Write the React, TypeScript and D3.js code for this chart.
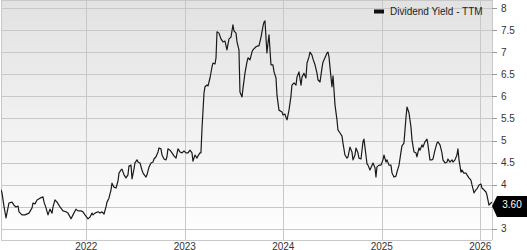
import React from "react";
import * as d3 from "d3";

// Time positions (decimal years) and dividend yield values
const years: number[] = [
  2021.134, 2021.144, 2021.164, 2021.185, 2021.215, 2021.246, 2021.266, 2021.286, 2021.307, 2021.317,
  2021.347, 2021.378, 2021.418, 2021.449, 2021.459, 2021.479, 2021.5, 2021.53, 2021.56, 2021.571,
  2021.591, 2021.611, 2021.631, 2021.652, 2021.662, 2021.682, 2021.703, 2021.733, 2021.763, 2021.794,
  2021.814, 2021.845, 2021.865, 2021.895, 2021.916, 2021.946, 2021.966, 2021.987, 2022.017, 2022.038,
  2022.058, 2022.068, 2022.088, 2022.119, 2022.139, 2022.159, 2022.18, 2022.2, 2022.21, 2022.23,
  2022.251, 2022.261, 2022.281, 2022.302, 2022.322, 2022.332, 2022.352, 2022.362, 2022.383, 2022.403,
  2022.423, 2022.433, 2022.454, 2022.464, 2022.484, 2022.494, 2022.515, 2022.525, 2022.545, 2022.565,
  2022.576, 2022.606, 2022.616, 2022.637, 2022.657, 2022.677, 2022.687, 2022.708, 2022.728, 2022.738,
  2022.758, 2022.769, 2022.789, 2022.809, 2022.819, 2022.829, 2022.85, 2022.87, 2022.89, 2022.911,
  2022.931, 2022.951, 2022.972, 2022.992, 2023.012, 2023.032, 2023.053, 2023.073, 2023.083, 2023.104,
  2023.124, 2023.134, 2023.154, 2023.164, 2023.175, 2023.195, 2023.205, 2023.225, 2023.236, 2023.256,
  2023.276, 2023.286, 2023.307, 2023.317, 2023.327, 2023.347, 2023.367, 2023.388, 2023.408, 2023.428,
  2023.449, 2023.469, 2023.489, 2023.499, 2023.52, 2023.53, 2023.55, 2023.56, 2023.581, 2023.591,
  2023.611, 2023.631, 2023.642, 2023.662, 2023.682, 2023.692, 2023.723, 2023.743, 2023.753, 2023.774,
  2023.794, 2023.804, 2023.814, 2023.824, 2023.834, 2023.845, 2023.855, 2023.865, 2023.875, 2023.895,
  2023.906, 2023.926, 2023.936, 2023.956, 2023.987, 2023.997, 2024.017, 2024.027, 2024.038, 2024.058,
  2024.078, 2024.088, 2024.109, 2024.129, 2024.139, 2024.159, 2024.18, 2024.19, 2024.21, 2024.23,
  2024.241, 2024.261, 2024.271, 2024.291, 2024.302, 2024.322, 2024.342, 2024.352, 2024.373, 2024.393,
  2024.403, 2024.423, 2024.444, 2024.454, 2024.464, 2024.484, 2024.494, 2024.505, 2024.525, 2024.545,
  2024.555, 2024.576, 2024.596, 2024.606, 2024.626, 2024.647, 2024.657, 2024.677, 2024.697, 2024.708,
  2024.728, 2024.738, 2024.758, 2024.768, 2024.789, 2024.809, 2024.819, 2024.839, 2024.85, 2024.86,
  2024.88, 2024.901, 2024.911, 2024.931, 2024.941, 2024.951, 2024.972, 2024.992, 2025.012, 2025.022,
  2025.043, 2025.053, 2025.073, 2025.093, 2025.104, 2025.124, 2025.144, 2025.154, 2025.175, 2025.195,
  2025.205, 2025.225, 2025.246, 2025.256, 2025.276, 2025.296, 2025.307, 2025.327, 2025.347, 2025.357,
  2025.378, 2025.388, 2025.408, 2025.418, 2025.438, 2025.459, 2025.469, 2025.489, 2025.51, 2025.52,
  2025.54, 2025.56, 2025.57, 2025.591, 2025.611, 2025.621, 2025.642, 2025.662, 2025.672, 2025.692,
  2025.713, 2025.723, 2025.743, 2025.763, 2025.773, 2025.784, 2025.804, 2025.814, 2025.834, 2025.855,
  2025.865, 2025.885, 2025.905, 2025.916, 2025.936, 2025.956, 2025.966, 2025.987, 2026.007, 2026.017,
  2026.037, 2026.058, 2026.068, 2026.088, 2026.108, 2026.119,
];

const yields: number[] = [
  3.88, 3.81, 3.51, 3.24, 3.58, 3.6, 3.53, 3.49, 3.51, 3.38,
  3.31, 3.31, 3.35, 3.47, 3.58, 3.56, 3.65, 3.69, 3.72, 3.6,
  3.47, 3.31, 3.44, 3.35, 3.49, 3.65, 3.6, 3.49, 3.4, 3.38,
  3.35, 3.22, 3.31, 3.44, 3.4, 3.4, 3.38, 3.31, 3.22, 3.26,
  3.35, 3.31, 3.35, 3.38, 3.35, 3.38, 3.33, 3.49, 3.6, 3.69,
  3.88, 4.03, 3.94, 3.92, 4.08, 4.26, 4.33, 4.35, 4.22, 4.15,
  4.22, 4.42, 4.44, 4.13, 4.35, 4.49, 4.56, 4.51, 4.49, 4.33,
  4.26, 4.17, 4.22, 4.4, 4.49, 4.51, 4.58, 4.63, 4.74, 4.83,
  4.81, 4.67, 4.58, 4.56, 4.63, 4.81, 4.78, 4.72, 4.65, 4.6,
  4.81, 4.74, 4.72, 4.76, 4.72, 4.72, 4.78, 4.72, 4.53, 4.67,
  4.6, 4.65, 4.72, 4.72, 5.28, 6.08, 6.22, 6.26, 6.24, 6.42,
  6.67, 6.76, 6.74, 6.88, 7.47, 7.44, 7.31, 7.24, 7.26, 7.06,
  7.31, 7.35, 7.63, 7.49, 7.44, 7.24, 7.06, 6.1, 5.99, 6.19,
  6.53, 6.78, 6.88, 6.83, 7.01, 7.06, 7.13, 7.15, 7.15, 7.35,
  7.6, 7.69, 7.72, 7.35, 6.99, 7.22, 7.4, 7.06, 6.72, 6.72,
  6.56, 6.42, 6.03, 5.69, 5.65, 5.58, 5.6, 5.53, 5.47, 5.69,
  6.01, 6.26, 6.31, 6.26, 6.44, 6.56, 6.26, 6.44, 6.53, 6.42,
  6.76, 6.9, 7.01, 6.94, 6.85, 6.72, 6.53, 6.38, 6.33, 6.65,
  6.78, 6.88, 6.99, 7.01, 6.9, 6.44, 6.22, 6.47, 5.81, 5.47,
  5.24, 5.17, 5.1, 4.94, 4.67, 4.6, 4.63, 4.85, 4.74, 4.56,
  4.67, 4.83, 4.72, 4.6, 4.58, 4.97, 5.03, 4.67, 4.47, 4.44,
  4.33, 4.44, 4.49, 4.38, 4.17, 4.4, 4.44, 4.44, 4.56, 4.67,
  4.51, 4.56, 4.44, 4.44, 4.26, 4.17, 4.19, 4.28, 4.44, 4.74,
  4.88, 4.94, 5.53, 5.76, 5.63, 5.31, 5.01, 4.74, 4.72, 4.63,
  4.83, 4.78, 4.9, 4.85, 4.97, 5.03, 4.9, 4.56, 4.56, 4.58,
  4.78, 4.94, 4.97, 4.9, 4.72, 4.56, 4.49, 4.51, 4.58, 4.51,
  4.56, 4.51, 4.56, 4.67, 4.81, 4.56, 4.28, 4.33, 4.26, 4.26,
  4.22, 4.15, 4.1, 3.99, 3.81, 3.88, 3.9, 3.99, 4.01, 3.92,
  3.88, 3.83, 3.76, 3.53, 3.58, 3.6,
];

const yearTicks: number[] = [2022, 2023, 2024, 2025, 2026];
const valueTicks: number[] = [3, 3.5, 4, 4.5, 5, 5.5, 6, 6.5, 7, 7.5, 8];
const seriesName = "Dividend Yield - TTM";
const lastLabel = "3.60";

const W = 527;
const H = 250;
const plotLeft = 1;
const plotRight = 492;
const plotTop = 1;
const plotBottom = 240;
const FONT = "'Liberation Sans', Arial, Helvetica, sans-serif";

export default function App() {
  const x = d3.scaleLinear().domain([2021.134, 2026.119]).range([plotLeft, plotRight]);
  const y = d3.scaleLinear().domain([2.739, 8.17]).range([plotBottom, plotTop]);

  const pts: [number, number][] = years.map((yr, i) => [yr, yields[i]]);
  const line = d3
    .line<[number, number]>()
    .x((d) => x(d[0]))
    .y((d) => y(d[1]));
  const path = line(pts) || "";

  const lastVal = yields[yields.length - 1];
  const ly = y(lastVal);
  const boxTop = ly - 6;
  const boxBottom = ly + 15;

  // Tick labels hidden behind the last-value marker are not drawn
  const visibleLabels = valueTicks.filter((v) => {
    const ty = y(v);
    return ty + 4 < boxTop || ty - 4 > boxBottom;
  });

  return (
    <svg
      width={W}
      height={H}
      style={{ position: "absolute", left: 0, top: 0, display: "block" }}
    >
      <defs>
        <linearGradient id="bg" x1="0" y1="0" x2="0" y2="1">
          <stop offset="0%" stopColor="#e2e2e2" />
          <stop offset="100%" stopColor="#ffffff" />
        </linearGradient>
        <clipPath id="plotClip">
          <rect x={plotLeft} y={plotTop} width={plotRight - plotLeft} height={plotBottom - plotTop} />
        </clipPath>
      </defs>
      <rect x={0} y={0} width={W} height={H} fill="#ffffff" />
      <rect
        x={plotLeft}
        y={plotTop}
        width={plotRight - plotLeft}
        height={plotBottom - plotTop}
        fill="url(#bg)"
      />
      {/* horizontal grid */}
      {valueTicks.map((v) => (
        <line
          key={"h" + v}
          x1={plotLeft}
          x2={plotRight}
          y1={Math.round(y(v)) + 0.5}
          y2={Math.round(y(v)) + 0.5}
          stroke="#c8c8c8"
          strokeWidth={1}
        />
      ))}
      {/* vertical grid */}
      {yearTicks.map((t) => (
        <line
          key={"v" + t}
          x1={Math.round(x(t)) + 0.5}
          x2={Math.round(x(t)) + 0.5}
          y1={plotTop}
          y2={plotBottom}
          stroke="#c8c8c8"
          strokeWidth={1}
        />
      ))}
      {/* borders */}
      <line x1={plotLeft + 0.5} x2={plotLeft + 0.5} y1={0} y2={plotBottom} stroke="#c8c8c8" />
      <line x1={plotRight + 0.5} x2={plotRight + 0.5} y1={0} y2={plotBottom} stroke="#c8c8c8" />
      <line x1={plotLeft} x2={plotRight} y1={0.5} y2={0.5} stroke="#c8c8c8" />
      <line x1={plotLeft} x2={plotRight} y1={plotBottom + 0.5} y2={plotBottom + 0.5} stroke="#c8c8c8" />

      {/* series line */}
      <path
        d={path}
        fill="none"
        stroke="#1a1a1a"
        strokeWidth={1.2}
        strokeLinejoin="round"
        clipPath="url(#plotClip)"
      />

      {/* y axis ticks */}
      {valueTicks.map((v) => (
        <line
          key={"yt" + v}
          x1={plotRight}
          x2={plotRight + 5}
          y1={Math.round(y(v)) + 0.5}
          y2={Math.round(y(v)) + 0.5}
          stroke="#999999"
        />
      ))}
      {/* y axis labels */}
      {visibleLabels.map((v) => (
        <text
          key={"yl" + v}
          x={501}
          y={y(v) + 3.5}
          fontFamily={FONT}
          fontSize={10}
          fill="#333333"
        >
          {String(v)}
        </text>
      ))}

      {/* x axis labels */}
      {yearTicks.map((t) => (
        <text
          key={"xl" + t}
          x={x(t)}
          y={250}
          textAnchor="middle"
          fontFamily={FONT}
          fontSize={10}
          fill="#333333"
        >
          {String(t)}
        </text>
      ))}

      {/* legend */}
      <rect x={374} y={9.5} width={10} height={4} fill="#111111" />
      <text x={390} y={15} fontFamily={FONT} fontSize={10} fill="#222222">
        {seriesName}
      </text>

      {/* last value label */}
      <path
        d={`M ${plotRight} ${ly + 4} L ${plotRight + 5} ${boxTop} L ${W} ${boxTop} L ${W} ${boxBottom} L ${plotRight + 5} ${boxBottom} Z`}
        fill="#000000"
      />
      <text
        x={512}
        y={ly + 5.5}
        textAnchor="middle"
        fontFamily={FONT}
        fontSize={10}
        fill="#ffffff"
      >
        {lastLabel}
      </text>
    </svg>
  );
}
